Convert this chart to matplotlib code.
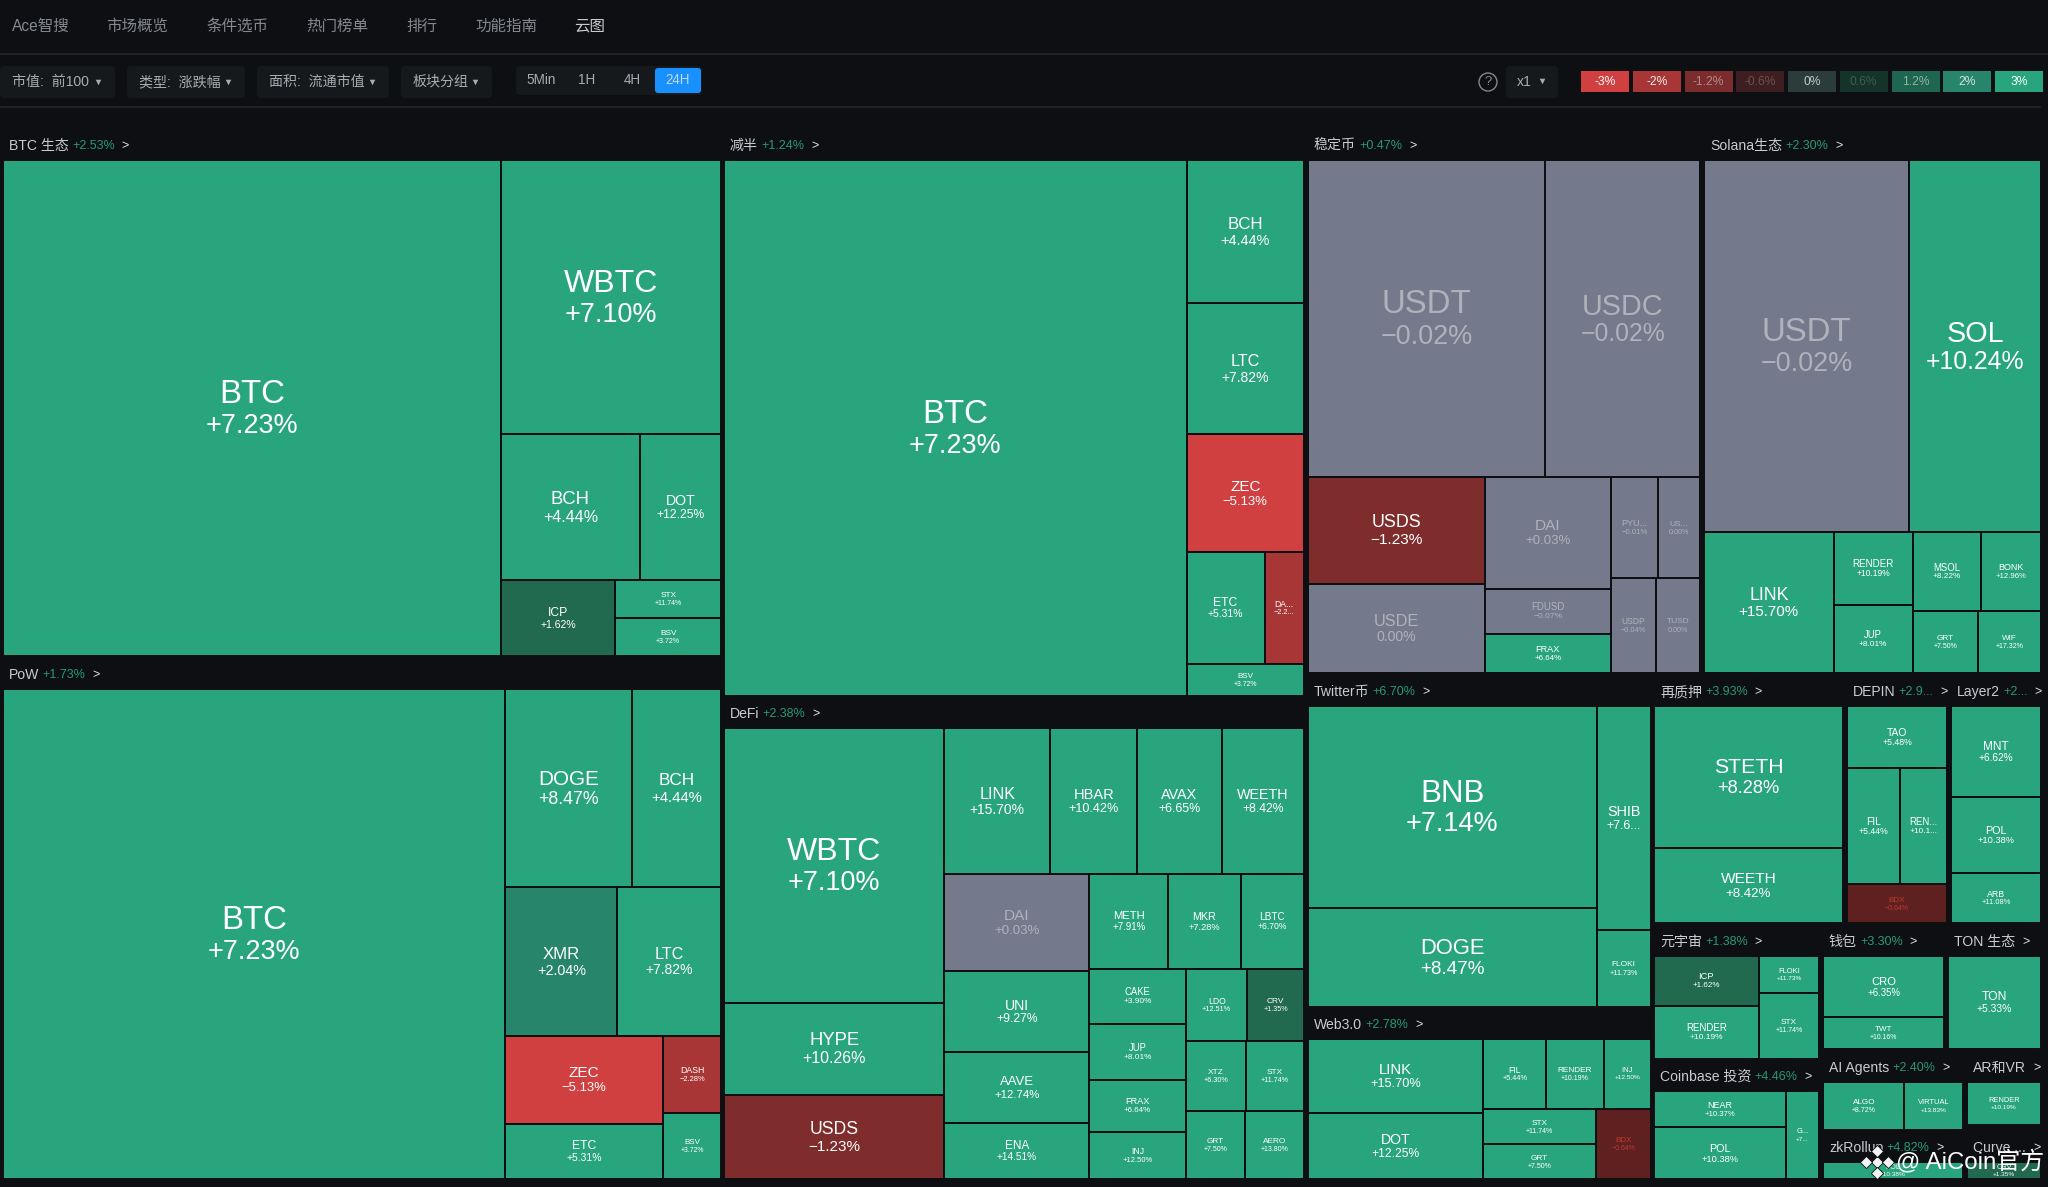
import math
import matplotlib
matplotlib.use('Agg')
import matplotlib.pyplot as plt
from matplotlib.patches import Rectangle, FancyBboxPatch, Circle

plt.rcParams['font.family'] = ['Liberation Sans', 'Noto Sans CJK SC', 'DejaVu Sans']

BG = '#0d0f12'
PX = 0.72  # px -> pt at dpi 100

# sector data: labels, 24h change, area weight
btc_names = ['BTC', 'WBTC', 'BCH', 'DOT', 'ICP', 'STX', 'BSV']
btc_pcts = ['+7.23%', '+7.10%', '+4.44%', '+12.25%', '+1.62%', '+11.74%', '+3.72%']
btc_sizes = [2468, 604, 204, 118, 87, 40, 40]

pow_names = ['BTC', 'DOGE', 'BCH', 'XMR', 'LTC', 'ZEC', 'ETC', 'DASH', 'BSV']
pow_pcts = ['+7.23%', '+8.47%', '+4.44%', '+2.04%', '+7.82%', '−5.13%', '+5.31%', '−2.28%', '+3.72%']
pow_sizes = [2462, 252, 176, 166, 154, 139, 87, 45, 38]

halving_names = ['BTC', 'BCH', 'LTC', 'ZEC', 'ETC', 'DA...', 'BSV']
halving_pcts = ['+7.23%', '+4.44%', '+7.82%', '−5.13%', '+5.31%', '−2.2...', '+3.72%']
halving_sizes = [2479, 168, 154, 138, 87, 44, 38]

defi_names = ['WBTC', 'HYPE', 'USDS', 'LINK', 'HBAR', 'AVAX', 'WEETH', 'DAI', 'UNI', 'AAVE', 'ENA',
              'METH', 'MKR', 'LBTC', 'CAKE', 'JUP', 'FRAX', 'INJ', 'LDO', 'CRV', 'XTZ', 'STX', 'GRT', 'AERO']
defi_pcts = ['+7.10%', '+10.26%', '−1.23%', '+15.70%', '+10.42%', '+6.65%', '+8.42%', '+0.03%', '+9.27%',
             '+12.74%', '+14.51%', '+7.91%', '+7.28%', '+6.70%', '+3.90%', '+8.01%', '+6.64%', '+12.50%',
             '+12.51%', '+1.35%', '+6.30%', '+11.74%', '+7.50%', '+13.80%']
defi_sizes = [605, 204, 185, 154, 127, 123, 120, 141, 117, 103, 81, 75, 69, 60, 54, 54, 50, 46, 44, 41, 42, 41, 40, 40]

stable_names = ['USDT', 'USDC', 'USDS', 'USDE', 'DAI', 'FDUSD', 'FRAX', 'PYU...', 'US...', 'USDP', 'TUSD']
stable_pcts = ['−0.02%', '−0.02%', '−1.23%', '0.00%', '+0.03%', '−0.07%', '+6.64%', '−0.01%', '0.00%', '−0.04%', '0.00%']
stable_sizes = [753, 490, 188, 158, 140, 57, 49, 48, 42, 43, 42]

solana_names = ['USDT', 'SOL', 'LINK', 'RENDER', 'JUP', 'MSOL', 'BONK', 'GRT', 'WIF']
solana_pcts = ['−0.02%', '+10.24%', '+15.70%', '+10.19%', '+8.01%', '+8.22%', '+12.96%', '+7.50%', '+17.32%']
solana_sizes = [763, 491, 183, 58, 54, 54, 48, 40, 39]

twitter_names = ['BNB', 'DOGE', 'SHIB', 'FLOKI']
twitter_pcts = ['+7.14%', '+8.47%', '+7.6...', '+11.73%']
twitter_sizes = [583, 286, 122, 42]

web3_names = ['LINK', 'DOT', 'FIL', 'RENDER', 'INJ', 'STX', 'GRT', 'BDX']
web3_pcts = ['+15.70%', '+12.25%', '+5.44%', '+10.19%', '+12.50%', '+11.74%', '+7.50%', '−0.64%']
web3_sizes = [130, 116, 44, 40, 33, 40, 39, 39]

restake_names = ['STETH', 'WEETH']
restake_pcts = ['+8.28%', '+8.42%']
restake_sizes = [268, 142]

depin_names = ['TAO', 'FIL', 'REN...', 'BDX']
depin_pcts = ['+5.48%', '+5.44%', '+10.1...', '−0.64%']
depin_sizes = [62, 62, 55, 39]

layer2_names = ['MNT', 'POL', 'ARB']
layer2_pcts = ['+6.62%', '+10.38%', '+11.08%']
layer2_sizes = [82, 68, 45]

meta_names = ['ICP', 'RENDER', 'FLOKI', 'STX']
meta_pcts = ['+1.62%', '+10.19%', '+11.73%', '+11.74%']
meta_sizes = [52, 56, 22, 40]

wallet_names = ['CRO', 'TWT']
wallet_pcts = ['+6.35%', '+10.16%']
wallet_sizes = [74, 38]

coinbase_names = ['NEAR', 'POL', 'G...']
coinbase_pcts = ['+10.37%', '+10.38%', '+7...']
coinbase_sizes = [48, 68, 29]

agents_names = ['ALGO', 'VIRTUAL']
agents_pcts = ['+8.72%', '+13.83%']
agents_sizes = [39, 28]

legend_labels = ['-3%', '-2%', '-1.2%', '-0.6%', '0%', '0.6%', '1.2%', '2%', '3%']
legend_colors = ['#d04040', '#a83636', '#7c2c2c', '#3e1f21', '#2c3c3a', '#143329', '#1e6650', '#26856a', '#29a57e']
legend_text = ['#ffffff', '#eeeeee', '#b08a8a', '#6b5052', '#c4c8c8', '#3d5c50', '#8fb3a5', '#d5e5df', '#ffffff']

nav_labels = ['Ace智搜', '市场概览', '条件选币', '热门榜单', '排行', '功能指南', '云图']
nav_x = [12, 106, 206, 306, 406, 475, 574]

# title, change, frame (x0, y0, x1, y1), names, pcts, sizes, split tree
sectors = [
    ('BTC 生态', '+2.53%', (3, 160, 721, 656), btc_names, btc_pcts, btc_sizes,
     ('h', 0, ('v', 1, ('h', 2, 3), ('h', 4, ('v', 5, 6))))),
    ('PoW', '+1.73%', (3, 689, 721, 1179), pow_names, pow_pcts, pow_sizes,
     ('h', 0, ('v', ('h', 1, 2), ('h', 3, 4), ('h', ('v', 5, 6), ('v', 7, 8))))),
    ('减半', '+1.24%', (724, 160, 1304, 696), halving_names, halving_pcts, halving_sizes,
     ('h', 0, ('v', 1, 2, 3, ('h', 4, 5), 6))),
    ('DeFi', '+2.38%', (724, 728, 1304, 1179), defi_names, defi_pcts, defi_sizes,
     ('h', ('v', 0, 1, 2),
      ('v', ('h', 3, 4, 5, 6),
       ('h', ('v', 7, 8, 9, 10),
        ('v', ('h', 11, 12, 13),
         ('h', ('v', 14, 15, 16, 17),
          ('v', ('h', 18, 19), ('h', 20, 21), ('h', 22, 23)))))))),
    ('稳定币', '+0.47%', (1308, 160, 1700, 673), stable_names, stable_pcts, stable_sizes,
     ('v', ('h', 0, 1),
      ('h', ('v', 2, 3), ('v', 4, 5, 6), ('v', ('h', 7, 8), ('h', 9, 10))))),
    ('Solana生态', '+2.30%', (1704, 160, 2041, 673), solana_names, solana_pcts, solana_sizes,
     ('v', ('h', 0, 1), ('h', 2, ('v', 3, 4), ('v', ('h', 5, 6), ('h', 7, 8))))),
    ('Twitter币', '+6.70%', (1308, 706, 1651, 1007), twitter_names, twitter_pcts, twitter_sizes,
     ('h', ('v', 0, 1), ('v', 2, 3))),
    ('Web3.0', '+2.78%', (1308, 1039, 1651, 1179), web3_names, web3_pcts, web3_sizes,
     ('h', ('v', 0, 1), ('v', ('h', 2, 3, 4), ('h', ('v', 5, 6), 7)))),
    ('再质押', '+3.93%', (1654, 706, 1843, 923), restake_names, restake_pcts, restake_sizes, ('v', 0, 1)),
    ('DEPIN', '+2.9...', (1847, 706, 1947, 923), depin_names, depin_pcts, depin_sizes,
     ('v', 0, ('h', 1, 2), 3)),
    ('Layer2', '+2...', (1951, 706, 2041, 923), layer2_names, layer2_pcts, layer2_sizes, ('v', 0, 1, 2)),
    ('元宇宙', '+1.38%', (1654, 956, 1819, 1059), meta_names, meta_pcts, meta_sizes,
     ('h', ('v', 0, 1), ('v', 2, 3))),
    ('钱包', '+3.30%', (1823, 956, 1944, 1049), wallet_names, wallet_pcts, wallet_sizes, ('v', 0, 1)),
    ('TON 生态', '', (1948, 956, 2041, 1049), ['TON'], ['+5.33%'], [1], 0),
    ('Coinbase 投资', '+4.46%', (1654, 1091, 1819, 1179), coinbase_names, coinbase_pcts, coinbase_sizes,
     ('h', ('v', 0, 1), 2)),
    ('AI Agents', '+2.40%', (1823, 1082, 1963, 1130), agents_names, agents_pcts, agents_sizes, ('h', 0, 1)),
    ('AR和VR', '', (1967, 1082, 2041, 1125), ['RENDER'], ['+10.19%'], [1], 0),
    ('zkRollup', '+4.82%', (1823, 1162, 1963, 1179), ['POL'], ['+10.38%'], [1], 0),
    ('Curve ...', '', (1967, 1162, 2041, 1179), ['CRV'], ['+1.35%'], [1], 0),
]


def weight(node, sizes):
    if isinstance(node, int):
        return sizes[node]
    return sum(weight(c, sizes) for c in node[1:])


def split(node, sizes, x0, y0, x1, y1, out):
    # slice the rectangle along the tree, widths follow the weights
    if isinstance(node, int):
        out[node] = (x0, y0, x1, y1)
        return
    total = weight(node, sizes)
    pos = x0 if node[0] == 'h' else y0
    for child in node[1:]:
        share = weight(child, sizes) / total
        if node[0] == 'h':
            step = (x1 - x0) * share
            split(child, sizes, pos, y0, pos + step, y1, out)
        else:
            step = (y1 - y0) * share
            split(child, sizes, x0, pos, x1, pos + step, out)
        pos += step


def cell_color(value):
    if value <= -3:
        return '#d04040'
    if value <= -2:
        return '#a83636'
    if value <= -1:
        return '#7f2c2c'
    if value <= -0.5:
        return '#5f2020'
    if abs(value) < 0.5:
        return '#747a8b'
    if value < 2:
        return '#21694f'
    if value < 3:
        return '#26856a'
    return '#29a57e'


def to_value(label):
    return float(label.replace('−', '-').replace('%', '').rstrip('.'))


fig = plt.figure(figsize=(20.48, 11.87), dpi=100, facecolor=BG)
ax = fig.add_axes([0, 0, 1, 1])
ax.set_xlim(0, 2048)
ax.set_ylim(1187, 0)
ax.axis('off')
renderer = fig.canvas.get_renderer()


def label(x, y, s, size, color, ha='center', **kw):
    return ax.text(x, y, s, fontsize=size * PX, color=color, ha=ha, va='center', **kw)


def box(x0, y0, x1, y1, color, r=4):
    ax.add_patch(FancyBboxPatch((x0, y0), x1 - x0, y1 - y0, boxstyle=f'round,pad=0,rounding_size={r}',
                                facecolor=color, edgecolor='none'))


# top bars
for name, x in zip(nav_labels, nav_x):
    label(x, 26, name, 15.5, '#c9cbcf' if name == '云图' else '#85888d', ha='left')
ax.plot([0, 2048], [54, 54], color='#23262a', lw=1.2)
ax.plot([0, 2040], [106.5, 106.5], color='#23262a', lw=1.2)

filters = [('市值:  前100', 0, 115), ('类型:  涨跌幅', 127, 245), ('面积:  流通市值', 257, 389), ('板块分组', 401, 492)]
for text, x0, x1 in filters:
    box(x0, 66, x1, 98, '#16191c')
    label(x0 + 12, 82, text, 14, '#a9abb0', ha='left')
    ax.scatter([x1 - 17], [82], marker='v', s=16, color='#a9abb0', linewidths=0)

box(516, 66, 702, 95, '#16191c')
box(655, 68, 701, 93, '#1890ff', r=3)
for text, x in zip(['5Min', '1H', '4H', '24H'], [541, 587, 632, 678]):
    label(x, 80.5, text, 13.5, '#c0d8f0' if text == '24H' else '#a9abb0')

ax.add_patch(Circle((1488, 82), 9, facecolor='none', edgecolor='#85888d', lw=1))
label(1488, 82, '?', 13, '#85888d')
box(1506, 66, 1558, 98, '#16191c')
label(1524, 82, 'x1', 14, '#a9abb0')
ax.scatter([1542], [81], marker='v', s=16, color='#a9abb0', linewidths=0)

for i, text in enumerate(legend_labels):
    x0 = 1581 + i * 51.75
    ax.add_patch(Rectangle((x0, 71), 48, 21, facecolor=legend_colors[i], edgecolor='none'))
    label(x0 + 24, 82, text, 12, legend_text[i])

# treemap blocks
for title, change, frame, names, pcts, sizes, tree in sectors:
    x0, y0, x1, y1 = frame
    cells = {}
    split(tree, sizes, x0, y0, x1, y1, cells)
    for i, (cx0, cy0, cx1, cy1) in cells.items():
        value = to_value(pcts[i])
        color = cell_color(value)
        ax.add_patch(Rectangle((cx0, cy0), cx1 - cx0, cy1 - cy0, facecolor=color, edgecolor=BG, lw=2 * PX))
        fs = min(33, max(7.5, 0.13 * math.sqrt((cx1 - cx0) * (cy1 - cy0))))
        ps = min(27, fs * 0.86)
        if color == '#747a8b':
            tc = '#aeb2bb'
        elif color == '#5f2020':
            tc = '#c0392f'
        else:
            tc = '#ffffff'
        cx, cy = (cx0 + cx1) / 2, (cy0 + cy1) / 2
        label(cx, cy - fs * 0.42, names[i], fs, tc)
        label(cx, cy + fs * 0.55, pcts[i], ps, tc)

    # sector header, pieces chained by measured width
    hy = y0 - 14
    t = label(x0 + 6, hy, title, 14, '#c8cbd0', ha='left')
    right = t.get_window_extent(renderer).x1
    if change:
        t = label(right + 3, hy, change, 12.5, '#279a72', ha='left')
        right = t.get_window_extent(renderer).x1
    label(right + 7, hy, '>', 12.5, '#e0e2e5', ha='left')

# watermark
wm_x = [1877, 1866, 1888, 1877, 1877]
wm_y = [1162, 1162, 1162, 1151, 1173]
ax.scatter(wm_x, wm_y, marker='D', s=38, color='#f2f2f2', edgecolors=BG, linewidths=0.6, zorder=5)
label(1896, 1162, '@ AiCoin官方', 24, '#ffffff', ha='left', zorder=6)

fig.savefig('out.png', dpi=100, facecolor=BG)
